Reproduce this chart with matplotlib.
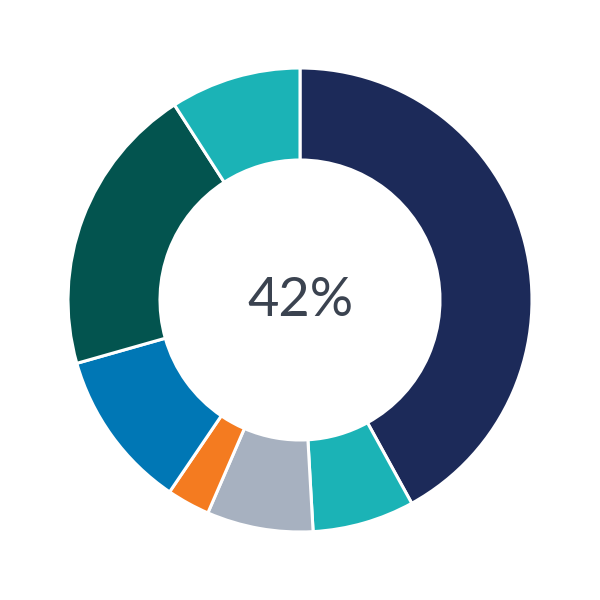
import matplotlib
matplotlib.use("Agg")
import matplotlib.pyplot as plt

categories = ["A", "B", "C", "D", "E", "F", "G"]
values = [42, 7.1, 7.4, 3.0, 11.1, 20.3, 9.1]
colors = ["#1c2a59", "#1bb3b6", "#a7b1c0", "#f47b20", "#0077b5", "#03544f", "#1bb3b6"]
center_label = "42%"

fig = plt.figure(figsize=(6, 6), dpi=100)
ax = fig.add_axes([0, 0, 1, 1])
ax.pie(values, colors=colors, startangle=90, counterclock=False, radius=1.0,
       wedgeprops=dict(width=(232 - 140) / 232, edgecolor="white", linewidth=2.2))
lim = 300 / 232
ax.set_xlim(-lim, lim)
ax.set_ylim(-lim, lim)
ax.set_aspect("equal")
ax.axis("off")
ax.text(0, 0, center_label, ha="center", va="center", fontsize=39,
        color="#3b4350", family=["Lato", "DejaVu Sans"])
fig.savefig("out.png", dpi=100, facecolor="white")
